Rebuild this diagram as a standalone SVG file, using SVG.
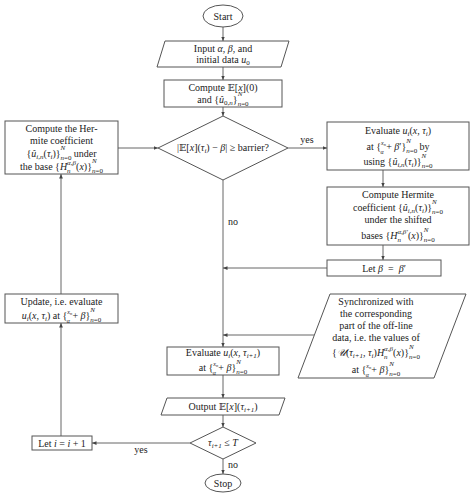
<svg xmlns="http://www.w3.org/2000/svg" width="474" height="498" viewBox="0 0 474 498">
<style>
text{font-family:"Liberation Serif","DejaVu Serif",serif;font-size:10px;fill:#222;text-anchor:middle}
.i{font-style:italic}
.s{font-size:7px}
.f{font-size:6px}
.ff{font-size:4.5px}
.bb{font-family:"DejaVu Serif","DejaVu Sans",serif;font-size:9.5px}
.n{fill:#fff;stroke:#555;stroke-width:1}
.c{fill:none;stroke:#555;stroke-width:0.9}
</style>
<defs>
<marker id="a" viewBox="0 0 6 6" refX="6" refY="3" markerWidth="5" markerHeight="5" orient="auto"><path d="M0,0.5L6,3L0,5.5z" fill="#444"/></marker>
</defs>
<rect width="474" height="498" fill="#fff"/>
<g id="connectors" class="c" marker-end="url(#a)">
<path d="M223,27V41"/>
<path d="M223,67V80"/>
<path d="M223,107V116"/>
<path d="M223,180V347"/>
<path d="M288,148H327"/>
<path d="M383,170V187"/>
<path d="M383,245V260"/>
<path d="M327,268H223"/>
<path d="M314,335H223"/>
<path d="M223,375V398"/>
<path d="M223,415V427"/>
<path d="M223,459V474"/>
<path d="M190,443H92"/>
<path d="M61,436V323"/>
<path d="M61,294V174"/>
<path d="M118,148H158"/>
</g>
<g id="labels">
<text x="307" y="143">yes</text>
<text x="233" y="225">no</text>
<text x="233" y="468">no</text>
<text x="141" y="453">yes</text>
</g>
<g id="start"><ellipse class="n" cx="223" cy="16" rx="20" ry="11"/><text x="223" y="19.5">Start</text></g>
<g id="input"><path class="n" d="M165,41H289L281,67H157Z"/>
<text x="223" y="52">Input <tspan class="i">α</tspan>, <tspan class="i">β</tspan>, and</text>
<text x="223" y="63">initial data <tspan class="i">u</tspan><tspan class="s" dy="2">0</tspan></text></g>
<g id="compute0"><rect class="n" x="164" y="80" width="118" height="27"/>
<text x="223" y="91">Compute <tspan class="bb">𝔼</tspan>[<tspan class="i">x</tspan>](0)</text>
<text x="223" y="103">and {<tspan class="i">û</tspan><tspan class="s" dy="2">0,<tspan class="i">n</tspan></tspan><tspan dy="-2">}</tspan><tspan class="s" dy="3"><tspan class="i">n</tspan>=0</tspan><tspan class="s i" dx="-11" dy="-10">N</tspan></text></g>
<g id="decision1"><polygon class="n" points="223,116 288,148 223,180 158,148"/>
<text x="223" y="151">|<tspan class="bb">𝔼</tspan>[<tspan class="i">x</tspan>](<tspan class="i">τ</tspan><tspan class="s i" dy="2">i</tspan><tspan dy="-2">) − </tspan><tspan class="i">β</tspan>| ≥ barrier?</text></g>
<g id="evalTau"><rect class="n" x="327" y="122" width="142" height="48"/>
<text x="398" y="134">Evaluate <tspan class="i">u</tspan><tspan class="s i" dy="2">i</tspan><tspan dy="-2">(</tspan><tspan class="i">x</tspan>, <tspan class="i">τ</tspan><tspan class="s i" dy="2">i</tspan><tspan dy="-2">)</tspan></text>
<text x="398" y="150">at {<tspan class="f i" dy="-5">x</tspan><tspan class="ff i" dy="1">n</tspan><tspan class="f i" dx="-5.5" dy="7.5">α</tspan><tspan dy="-3.5"> + </tspan><tspan class="i">β</tspan>′}<tspan class="s" dy="3"><tspan class="i">n</tspan>=0</tspan><tspan class="s i" dx="-11" dy="-10">N</tspan><tspan dx="6" dy="7"> by</tspan></text>
<text x="398" y="165">using {<tspan class="i">û</tspan><tspan class="s i" dy="2">i,n</tspan><tspan dy="-2">(</tspan><tspan class="i">τ</tspan><tspan class="s i" dy="2">i</tspan><tspan dy="-2">)}</tspan><tspan class="s" dy="3"><tspan class="i">n</tspan>=0</tspan><tspan class="s i" dx="-11" dy="-10">N</tspan></text></g>
<g id="hermiteShift"><rect class="n" x="327" y="187" width="142" height="58"/>
<text x="398" y="198">Compute Hermite</text>
<text x="398" y="211">coefficient {<tspan class="i">û</tspan><tspan class="s i" dy="2">i,n</tspan><tspan dy="-2">(</tspan><tspan class="i">τ</tspan><tspan class="s i" dy="2">i</tspan><tspan dy="-2">)}</tspan><tspan class="s" dy="3"><tspan class="i">n</tspan>=0</tspan><tspan class="s i" dx="-11" dy="-10">N</tspan></text>
<text x="398" y="223">under the shifted</text>
<text x="398" y="239">bases {<tspan class="i">H</tspan><tspan class="s i" dy="3">n</tspan><tspan class="s i" dx="-3.5" dy="-8">α,β′</tspan><tspan dy="5">(</tspan><tspan class="i">x</tspan>)}<tspan class="s" dy="3"><tspan class="i">n</tspan>=0</tspan><tspan class="s i" dx="-11" dy="-10">N</tspan></text></g>
<g id="letBeta"><rect class="n" x="327" y="260" width="114" height="16"/>
<text x="384" y="272">Let <tspan class="i">β</tspan><tspan dx="5">=</tspan><tspan class="i" dx="5">β</tspan>′</text></g>
<g id="hermiteBase"><rect class="n" x="5" y="121" width="113" height="53"/>
<text x="61.5" y="132">Compute the Her-</text>
<text x="61.5" y="144">mite coefficient</text>
<text x="61.5" y="157">{<tspan class="i">û</tspan><tspan class="s i" dy="2">i,n</tspan><tspan dy="-2">(</tspan><tspan class="i">τ</tspan><tspan class="s i" dy="2">i</tspan><tspan dy="-2">)}</tspan><tspan class="s" dy="3"><tspan class="i">n</tspan>=0</tspan><tspan class="s i" dx="-11" dy="-10">N</tspan><tspan dx="6" dy="7"> under</tspan></text>
<text x="61.5" y="170">the base {<tspan class="i">H</tspan><tspan class="s i" dy="3">n</tspan><tspan class="s i" dx="-3.5" dy="-8">α,β</tspan><tspan dy="5">(</tspan><tspan class="i">x</tspan>)}<tspan class="s" dy="3"><tspan class="i">n</tspan>=0</tspan><tspan class="s i" dx="-11" dy="-10">N</tspan></text></g>
<g id="update"><rect class="n" x="5" y="294" width="113" height="29"/>
<text x="61.5" y="304.5">Update, i.e. evaluate</text>
<text x="61.5" y="319"><tspan class="i">u</tspan><tspan class="s i" dy="2">i</tspan><tspan dy="-2">(</tspan><tspan class="i">x</tspan>, <tspan class="i">τ</tspan><tspan class="s i" dy="2">i</tspan><tspan dy="-2">) at {</tspan><tspan class="f i" dy="-5">x</tspan><tspan class="ff i" dy="1">n</tspan><tspan class="f i" dx="-5.5" dy="7.5">α</tspan><tspan dy="-3.5"> + </tspan><tspan class="i">β</tspan>}<tspan class="s" dy="3"><tspan class="i">n</tspan>=0</tspan><tspan class="s i" dx="-11" dy="-10">N</tspan></text></g>
<g id="sync"><path class="n" d="M330,294H466L434,378H298Z"/>
<text x="376" y="305">Synchronized with</text>
<text x="376" y="317">the corresponding</text>
<text x="376" y="329">part of the off-line</text>
<text x="376" y="341">data, i.e. the values of</text>
<text x="376" y="356">{<tspan class="i">𝒰</tspan>(<tspan class="i">τ</tspan><tspan class="s i" dy="2">i+1</tspan><tspan dy="-2">, </tspan><tspan class="i">τ</tspan><tspan class="s i" dy="2">i</tspan><tspan dy="-2">)</tspan><tspan class="i">H</tspan><tspan class="s i" dy="3">n</tspan><tspan class="s i" dx="-3.5" dy="-8">α,β</tspan><tspan dy="5">(</tspan><tspan class="i">x</tspan>)}<tspan class="s" dy="3"><tspan class="i">n</tspan>=0</tspan><tspan class="s i" dx="-11" dy="-10">N</tspan></text>
<text x="376" y="373">at {<tspan class="f i" dy="-5">x</tspan><tspan class="ff i" dy="1">n</tspan><tspan class="f i" dx="-5.5" dy="7.5">α</tspan><tspan dy="-3.5"> + </tspan><tspan class="i">β</tspan>}<tspan class="s" dy="3"><tspan class="i">n</tspan>=0</tspan><tspan class="s i" dx="-11" dy="-10">N</tspan></text></g>
<g id="evalNext"><rect class="n" x="167" y="347" width="112" height="28"/>
<text x="223" y="356">Evaluate <tspan class="i">u</tspan><tspan class="s i" dy="2">i</tspan><tspan dy="-2">(</tspan><tspan class="i">x</tspan>, <tspan class="i">τ</tspan><tspan class="s i" dy="2">i+1</tspan><tspan dy="-2">)</tspan></text>
<text x="223" y="371">at {<tspan class="f i" dy="-5">x</tspan><tspan class="ff i" dy="1">n</tspan><tspan class="f i" dx="-5.5" dy="7.5">α</tspan><tspan dy="-3.5"> + </tspan><tspan class="i">β</tspan>}<tspan class="s" dy="3"><tspan class="i">n</tspan>=0</tspan><tspan class="s i" dx="-11" dy="-10">N</tspan></text></g>
<g id="output"><path class="n" d="M167,398H285L279,415H161Z"/>
<text x="223" y="410">Output <tspan class="bb">𝔼</tspan>[<tspan class="i">x</tspan>](<tspan class="i">τ</tspan><tspan class="s i" dy="2">i+1</tspan><tspan dy="-2">)</tspan></text></g>
<g id="decision2"><polygon class="n" points="223,427 256,443 223,459 190,443"/>
<text x="223" y="446"><tspan class="i">τ</tspan><tspan class="s i" dy="2">i+1</tspan><tspan dy="-2"> ≤ </tspan><tspan class="i">T</tspan></text></g>
<g id="stop"><ellipse class="n" cx="223" cy="483" rx="18" ry="9"/><text x="223" y="486.5">Stop</text></g>
<g id="incr"><rect class="n" x="32" y="436" width="60" height="14"/>
<text x="62" y="447">Let <tspan class="i">i</tspan> = <tspan class="i">i</tspan> + 1</text></g>
</svg>
